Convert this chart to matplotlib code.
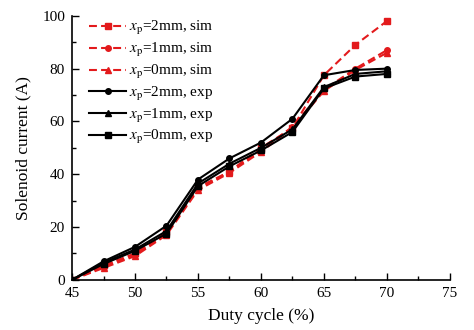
import numpy as np
from matplotlib import pyplot as plt

plt.rcParams['font.family'] = 'Liberation Serif'
plt.rcParams['mathtext.fontset'] = 'stix'

## data ##
duty = [45, 47.5, 50, 52.5, 55, 57.5, 60, 62.5, 65, 67.5, 70]

sim_2mm = [0, 5.5, 10, 18, 35, 41, 50, 57.5, 77.5, 89, 98]
sim_1mm = [0, 5, 9.5, 17.5, 34.5, 41, 49, 58, 72, 80, 87]
sim_0mm = [0, 4.5, 9, 17, 34, 40.5, 48.5, 57.5, 71.5, 79.5, 86]
exp_2mm = [0, 7, 12.5, 20.5, 38, 46, 52, 61, 77.5, 79.5, 80]
exp_1mm = [0, 6.5, 11.5, 18.5, 36.5, 44, 50, 57, 73, 78, 79]
exp_0mm = [0, 6, 11, 17.5, 35.5, 43, 49, 56, 72.5, 77, 78]

red = '#e31a1c'
dash = (3.8, 2.0)

fig = plt.figure(figsize=(4.74, 3.30), dpi=100)
ax = fig.add_axes([0.152, 0.152, 0.797, 0.80])

ax.plot(duty, sim_2mm, '--', color=red, marker='s', ms=4, lw=1.5, dashes=dash, label=r'$x_{\mathrm{p}}$=2mm, sim')
ax.plot(duty, sim_1mm, '--', color=red, marker='o', ms=4, lw=1.5, dashes=dash, label=r'$x_{\mathrm{p}}$=1mm, sim')
ax.plot(duty, sim_0mm, '--', color=red, marker='^', ms=4, lw=1.5, dashes=dash, label=r'$x_{\mathrm{p}}$=0mm, sim')
ax.plot(duty, exp_2mm, '-', color='black', marker='o', ms=4, lw=1.5, label=r'$x_{\mathrm{p}}$=2mm, exp')
ax.plot(duty, exp_1mm, '-', color='black', marker='^', ms=4, lw=1.5, label=r'$x_{\mathrm{p}}$=1mm, exp')
ax.plot(duty, exp_0mm, '-', color='black', marker='s', ms=4, lw=1.5, label=r'$x_{\mathrm{p}}$=0mm, exp')

ax.set_xlim(45, 75)
ax.set_ylim(0, 100)
ax.set_xticks(np.arange(45, 76, 5))
ax.set_xticks(np.arange(47.5, 75, 5), minor=True)
ax.set_yticks(np.arange(0, 101, 20))
ax.set_yticks(np.arange(10, 100, 20), minor=True)
ax.tick_params(which='both', direction='in', labelsize=11, width=1)
ax.tick_params(which='major', length=5, pad=5)
ax.tick_params(which='minor', length=3)
for s in ['top', 'right']:
    ax.spines[s].set_visible(False)
for s in ['left', 'bottom']:
    ax.spines[s].set_linewidth(1.2)

ax.set_xlabel('Duty cycle (%)', fontsize=12.5, labelpad=6)
ax.set_ylabel('Solenoid current (A)', fontsize=12.5, labelpad=8)

ax.legend(loc='upper left', frameon=False, fontsize=11, handlelength=2.4,
          handletextpad=0.2, labelspacing=0.25, borderaxespad=0.0,
          bbox_to_anchor=(0.03, 1.01))

fig.savefig('out.png', dpi=100)
